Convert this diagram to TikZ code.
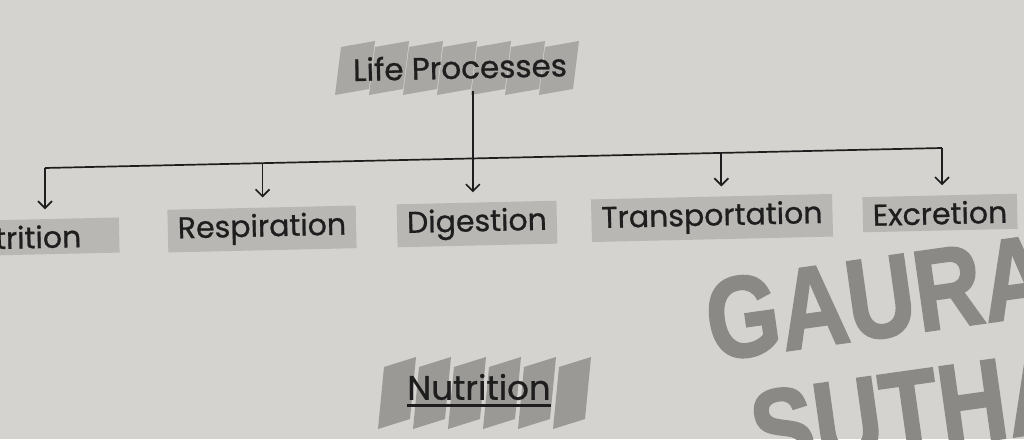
\documentclass[tikz,border=0pt]{standalone}
\usepackage{fontspec}
\setmainfont{Poppins}[FakeBold=0.8]
\newfontfamily\wmfont{Liberation Sans}[BoldFeatures={FakeBold=2}]
\usetikzlibrary{arrows.meta,calc}
\definecolor{bg}{HTML}{D5D3CF}
\definecolor{boxc}{HTML}{B9B7B3}
\definecolor{zigA}{HTML}{A9A7A4}
\definecolor{zigB}{HTML}{9B9996}
\definecolor{ink}{HTML}{1E1E1E}
\definecolor{wm}{HTML}{8B8986}
\tikzset{
  lbl/.style={fill=boxc, text=ink, font=\fontsize{30}{34}\selectfont, inner xsep=10pt, inner ysep=6pt, rotate=1.3},
  plain/.style={text=ink, font=\fontsize{31}{35}\selectfont, inner sep=0pt, rotate=1.3},
  arr/.style={draw=ink, line width=1.7pt, shorten >=10pt, -{Straight Barb[length=7pt,width=14pt,line width=1.7pt]}},
  bar/.style={draw=ink, line width=1.7pt},
  wmtext/.style={text=wm, font=\wmfont\bfseries\fontsize{115}{115}\selectfont, inner sep=0pt, rotate=8, xscale=0.82},
}
\begin{document}
\begin{tikzpicture}[x=1pt,y=1pt]
\useasboundingbox (0,0) rectangle (1024,439);
\fill[bg] (0,0) rectangle (1024,439);
\clip (0,0) rectangle (1024,439);
% show-through letters
\node[wmtext, anchor=base west] (gaura) at (712,78) {GAURA};
\node[wmtext, anchor=north west] (sutha) at (746,46) {SUTHA};
% zigzag shading behind headings
\foreach \i in {0,...,6}
  \fill[zigA] ({335+\i*34},344) -- ++(6,48) -- ++(34,6) -- ++(-6,-48) -- cycle;
\foreach \i in {0,...,5}
  \fill[zigB] ({378+\i*35},10) -- ++(6,62) -- ++(32,10) -- ++(-6,-62) -- cycle;
% nodes
\node[plain] (lp) at (460,372) {Life Processes};
\node[lbl] (nut) at (32,202) {Nutrition\kern28pt};
\node[lbl] (resp) at (262,210) {Respiration};
\node[lbl] (dig) at (477,215) {Digestion};
\node[lbl] (trans) at (712,221) {Transportation};
\node[lbl] (exc) at (940,226) {Excretion};
\node[plain, rotate=-1.3, font=\fontsize{34}{38}\selectfont] (nb) at (479,52) {Nutrition};
\draw[draw=ink, line width=2.6pt] ([yshift=-5pt]nb.south west) -- ([yshift=-5pt]nb.south east);
% bar and arrows
\coordinate (bL) at (45,271);
\coordinate (bR) at (942,291);
\coordinate (bS) at ($(bL)!0.2425!(bR)$);
\coordinate (bD) at ($(bL)!0.477!(bR)$);
\coordinate (bT) at ($(bL)!0.754!(bR)$);
\draw[bar] (bL) -- (bR);
\draw[arr] (bL) -- (bL |- nut.north);
\draw[arr] (bS) -- (bS |- resp.north);
\draw[arr, shorten <=12pt] (lp.south -| bD) -- (bD |- dig.north);
\draw[arr] (bT) -- (bT |- trans.north);
\draw[arr] (bR) -- (bR |- exc.north);
\end{tikzpicture}
\end{document}
